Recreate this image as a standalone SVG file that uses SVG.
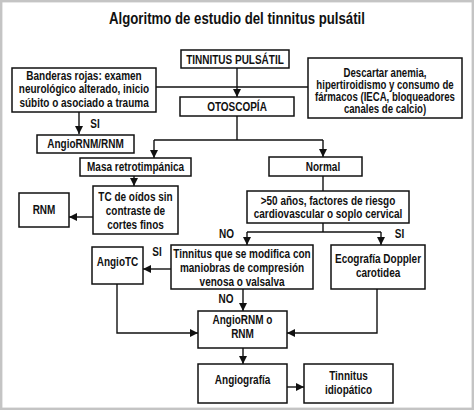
<svg xmlns="http://www.w3.org/2000/svg" width="474" height="412" viewBox="0 0 474 412">
<style>
text{font-family:"Liberation Sans",Arial,sans-serif;font-weight:bold;font-size:12.5px;fill:#111;text-anchor:middle;transform-box:fill-box;transform-origin:center;transform:scaleX(0.8)}
.title{font-size:16.5px}
.n{transform:scaleX(0.77)}
rect.b{fill:#fff;stroke:#111;stroke-width:1.5}
.c line,.c polyline{stroke:#111;stroke-width:1.4;fill:none}
</style>
<defs>
<marker id="a" viewBox="0 0 8 8" refX="8" refY="4" markerWidth="8" markerHeight="8" markerUnits="userSpaceOnUse" orient="auto">
<path d="M0,0 L8,4 L0,8 Z" fill="#111"/>
</marker>
</defs>
<rect x="0" y="0" width="474" height="412" fill="#fff"/>
<rect x="1.2" y="1.2" width="471.6" height="407.6" fill="none" stroke="#c4c4c4" stroke-width="2.4"/>
<text class="title" x="237" y="24">Algoritmo de estudio del tinnitus pulsátil</text>
<g class="c">
<line x1="237" y1="68" x2="237" y2="97" marker-end="url(#a)"/>
<line x1="156" y1="87" x2="308" y2="87"/>
<line x1="79" y1="112" x2="79" y2="134" marker-end="url(#a)"/>
<polyline points="237,116 237,140"/>
<line x1="154" y1="140" x2="323" y2="140"/>
<line x1="154" y1="140" x2="154" y2="158" marker-end="url(#a)"/>
<line x1="323" y1="140" x2="323" y2="157" marker-end="url(#a)"/>
<line x1="134" y1="176" x2="134" y2="186" marker-end="url(#a)"/>
<line x1="93" y1="217" x2="69" y2="217" marker-end="url(#a)"/>
<line x1="323" y1="176" x2="323" y2="191"/>
<line x1="323" y1="223" x2="323" y2="232"/>
<line x1="247" y1="232" x2="381" y2="232"/>
<line x1="247" y1="232" x2="247" y2="245" marker-end="url(#a)"/>
<line x1="381" y1="232" x2="381" y2="245" marker-end="url(#a)"/>
<line x1="171" y1="269" x2="143" y2="269" marker-end="url(#a)"/>
<line x1="243" y1="289" x2="243" y2="311" marker-end="url(#a)"/>
<polyline points="117,284 117,333 198,333" marker-end="url(#a)"/>
<polyline points="377,289 377,333 287,333" marker-end="url(#a)"/>
<line x1="243" y1="348" x2="243" y2="364" marker-end="url(#a)"/>
<line x1="287" y1="387" x2="304" y2="387" marker-end="url(#a)"/>
</g>
<text x="95" y="128">SI</text>
<text x="226.5" y="238">NO</text>
<text x="399.5" y="238">SI</text>
<text x="157" y="256">SI</text>
<text x="226" y="303">NO</text>
<g id="tinnitus"><rect class="b" x="181" y="50" width="108" height="18"/><text x="235" y="64">TINNITUS PULSÁTIL</text></g>
<g id="banderas"><rect class="b" x="12" y="68" width="144" height="44"/><text x="84" y="80">Banderas rojas: examen</text><text x="84" y="93.5">neurológico alterado, inicio</text><text x="84" y="107">súbito o asociado a trauma</text></g>
<g id="descartar"><rect class="b" x="308" y="58" width="154" height="60"/><text class="n" x="385" y="77">Descartar anemia,</text><text class="n" x="385" y="89">hipertiroidismo y consumo de</text><text class="n" x="385" y="101">fármacos (IECA, bloqueadores</text><text class="n" x="385" y="113">canales de calcio)</text></g>
<g id="otoscopia"><rect class="b" x="180" y="97" width="114" height="19"/><text x="237" y="111">OTOSCOPÍA</text></g>
<g id="angiornm1"><rect class="b" x="37" y="135" width="97" height="18"/><text x="85.5" y="148.5">AngioRNM/RNM</text></g>
<g id="masa"><rect class="b" x="80" y="158" width="111" height="18"/><text x="135.5" y="171.5">Masa retrotimpánica</text></g>
<g id="normal"><rect class="b" x="269" y="157" width="93" height="19"/><text x="323" y="171.5">Normal</text></g>
<g id="tc"><rect class="b" x="93" y="186" width="85" height="48"/><text x="135.5" y="201.5">TC de oídos sin</text><text x="135.5" y="215.5">contraste de</text><text x="135.5" y="229">cortes finos</text></g>
<g id="rnm"><rect class="b" x="19" y="193" width="50" height="34"/><text x="44" y="214">RNM</text></g>
<g id="mayor50"><rect class="b" x="247" y="191" width="162" height="32"/><text x="328" y="205">&gt;50 años, factores de riesgo</text><text x="328" y="218.5">cardiovascular o soplo cervical</text></g>
<g id="maniobras"><rect class="b" x="171" y="245" width="142" height="44"/><text x="242" y="258.5">Tinnitus que se modifica con</text><text x="242" y="272.5">maniobras de compresión</text><text x="242" y="286">venosa o valsalva</text></g>
<g id="eco"><rect class="b" x="331" y="245" width="94" height="44"/><text x="378" y="263">Ecografía Doppler</text><text x="378" y="277.5">carotidea</text></g>
<g id="angiotc"><rect class="b" x="92" y="247" width="51" height="37"/><text x="117.5" y="266.5">AngioTC</text></g>
<g id="angiornm2"><rect class="b" x="198" y="311" width="89" height="37"/><text x="242.5" y="324.5">AngioRNM o</text><text x="242.5" y="338">RNM</text></g>
<g id="angiografia"><rect class="b" x="198" y="364" width="89" height="39"/><text x="242.5" y="384">Angiografía</text></g>
<g id="idiopatico"><rect class="b" x="304" y="364" width="89" height="39"/><text x="348.5" y="380.5">Tinnitus</text><text x="348.5" y="394">idiopático</text></g>
</svg>
